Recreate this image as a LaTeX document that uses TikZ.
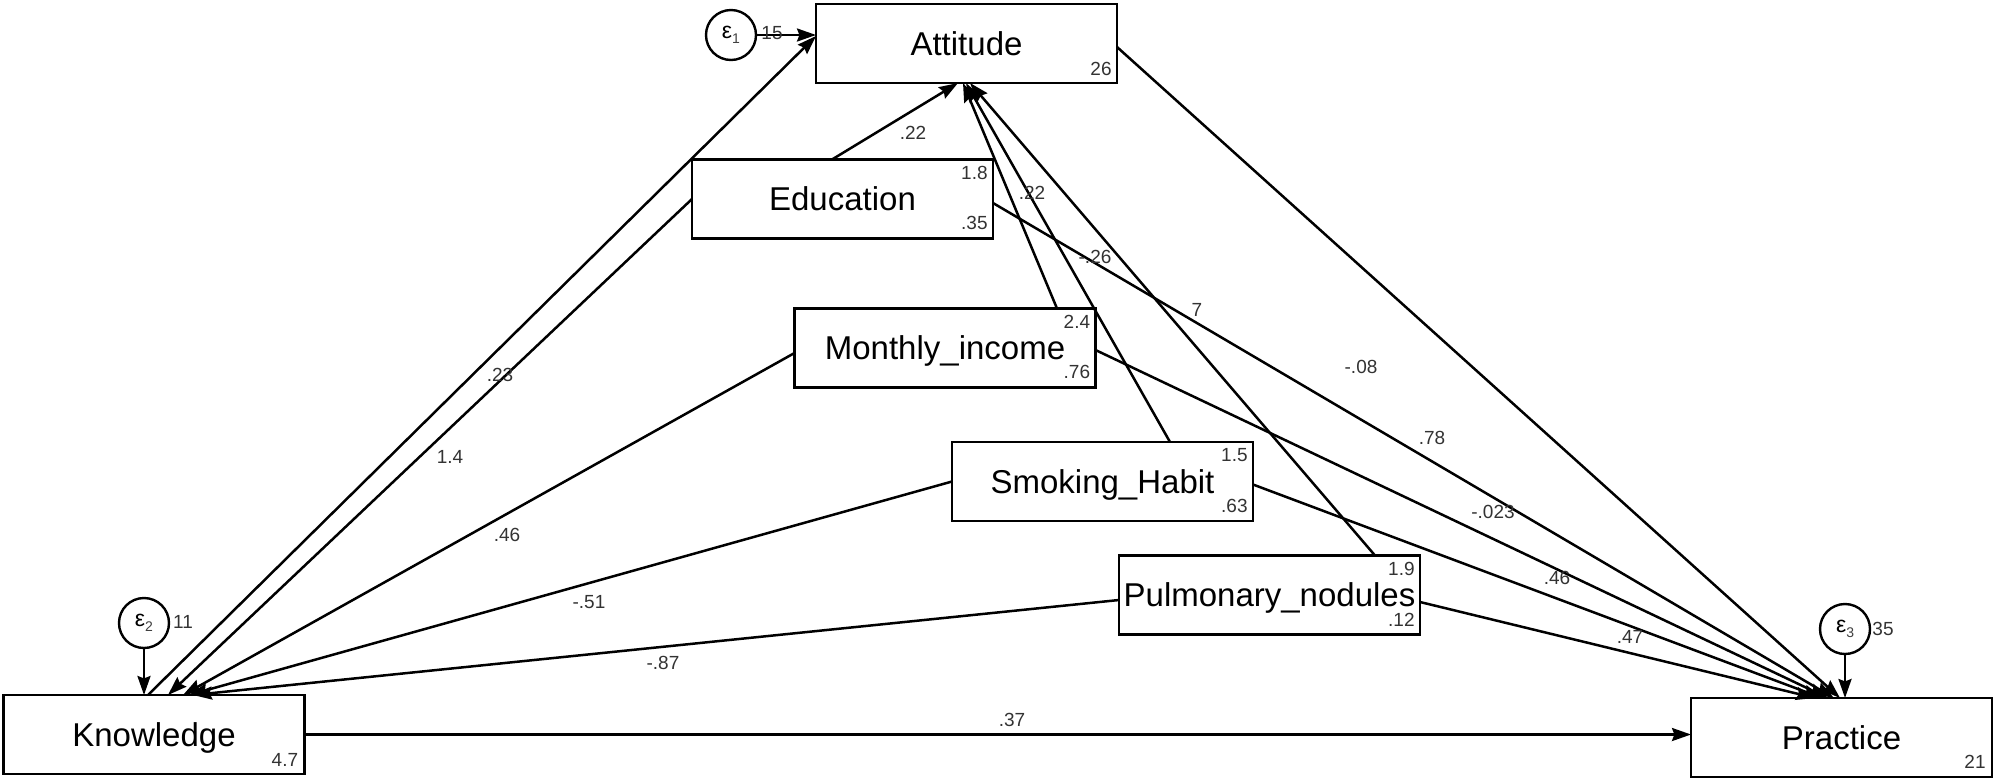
\documentclass[tikz,border=0pt]{standalone}
\usepackage{fontspec}
\setmainfont{Liberation Sans}
\usetikzlibrary{arrows.meta,calc}
\tikzset{
  var/.style={draw, line width=1.4pt, minimum width=150.5pt, minimum height=39.5pt,
    inner sep=0pt, outer sep=0pt, text height=11.8pt, text depth=0pt,
    font=\fontsize{16.5}{18}\selectfont},
  err/.style={draw, circle, line width=1.2pt, minimum size=25pt, inner sep=0pt,
    outer sep=0pt, font=\fontsize{11.5}{12}\selectfont},
  num/.style={inner sep=0pt, font=\fontsize{9.5}{10}\selectfont, text=black!80},
  conn/.style={line width=1.25pt, -{Stealth[length=9.5pt,width=6.5pt,inset=1.2pt]}},
}
\newcommand{\eps}[1]{ε\raisebox{-2.5pt}{\fontsize{7}{7}\selectfont\color{black!75}#1}}
\begin{document}
\begin{tikzpicture}[x=0.5pt,y=-0.5pt]
\useasboundingbox (0,0) rectangle (2008,783);
\fill[white] (0,0) rectangle (2008,783);

% boxes
\node[var] (att) at (966.5,43.5) {Attitude};
\node[var] (edu) at (842.5,199) {Education};
\node[var] (mon) at (945,348) {Monthly\_income};
\node[var] (smk) at (1102.5,481.5) {Smoking\_Habit};
\node[var] (pul) at (1269.5,595) {Pulmonary\_nodules};
\node[var] (kno) at (154,734.5) {Knowledge};
\node[var] (pra) at (1841.5,737.5) {Practice};

% error terms
\node[err] (e1) at (731,35) {\eps{1}};
\node[err] (e2) at (144,623) {\eps{2}};
\node[err] (e3) at (1845,629) {\eps{3}};

% box numbers
\node[num, anchor=south east] (attv) at ($(att.south east)+(-5,-7)$) {26};
\node[num, anchor=north east] (edum) at ($(edu.north east)+(-5,6)$) {1.8};
\node[num, anchor=south east] (eduv) at ($(edu.south east)+(-5,-8)$) {.35};
\node[num, anchor=north east] (monm) at ($(mon.north east)+(-5,6)$) {2.4};
\node[num, anchor=south east] (monv) at ($(mon.south east)+(-5,-8)$) {.76};
\node[num, anchor=north east] (smkm) at ($(smk.north east)+(-5,6)$) {1.5};
\node[num, anchor=south east] (smkv) at ($(smk.south east)+(-5,-8)$) {.63};
\node[num, anchor=north east] (pulm) at ($(pul.north east)+(-5,6)$) {1.9};
\node[num, anchor=south east] (pulv) at ($(pul.south east)+(-5,-8)$) {.12};
\node[num, anchor=south east] (knov) at ($(kno.south east)+(-6,-7)$) {4.7};
\node[num, anchor=south east] (prav) at ($(pra.south east)+(-6,-8)$) {21};

% attachment points
\coordinate (attL) at ($(att.west)+(0,-7.5)$);
\coordinate (aB1) at ($(att.south)+(-8.5,0)$);
\coordinate (aB2) at ($(att.south)+(-3.5,0)$);
\coordinate (aB3) at ($(att.south)+(-0.5,0)$);
\coordinate (aB4) at ($(att.south)+(3.5,0)$);
\coordinate (kT0) at ($(kno.north)+(-6,0)$);
\coordinate (kT1) at ($(kno.north)+(14,0)$);
\coordinate (kT2) at ($(kno.north)+(29,0)$);
\coordinate (kT3) at ($(kno.north)+(35,0)$);
\coordinate (kT4) at ($(kno.north)+(39,0)$);
\coordinate (pT0) at ($(pra.north)+(-1.5,0)$);
\coordinate (pT1) at ($(pra.north)+(-7.5,0)$);
\coordinate (pT2) at ($(pra.north)+(-13.5,0)$);
\coordinate (pT3) at ($(pra.north)+(-19.5,0)$);
\coordinate (pT4) at ($(pra.north)+(-26.5,0)$);
\coordinate (eduT) at ($(edu.north)+(-10.5,0)$);
\coordinate (monT) at ($(mon.north)+(112,0)$);
\coordinate (smkT) at ($(smk.north)+(67.5,0)$);
\coordinate (pulT) at ($(pul.north)+(105.5,0)$);
\coordinate (monL) at ($(mon.west)+(0,5)$);
\coordinate (pulL) at ($(pul.west)+(0,5)$);
\coordinate (eduR) at ($(edu.east)+(0,4)$);
\coordinate (monR) at ($(mon.east)+(0,2)$);
\coordinate (smkR) at ($(smk.east)+(0,3)$);
\coordinate (pulR) at ($(pul.east)+(0,7)$);
\coordinate (attR) at ($(att.east)+(0,3.5)$);

% paths
\draw[conn] (e1.east) -- (e1.east -| att.west);
\draw[conn] (e2.south) -- (e2.south |- kno.north);
\draw[conn] (e3.south) -- (e3.south |- pra.north);
\draw[conn] (kT0) -- (attL);
\draw[conn] (edu.west) -- (kT1);
\draw[conn] (monL) -- (kT2);
\draw[conn] (smk.west) -- (kT3);
\draw[conn] (pulL) -- (kT4);
\draw[conn] (eduT) -- (aB1);
\draw[conn] (monT) -- (aB2);
\draw[conn] (smkT) -- (aB3);
\draw[conn] (pulT) -- (aB4);
\draw[conn] (attR) -- (pT0);
\draw[conn] (eduR) -- (pT1);
\draw[conn] (monR) -- (pT2);
\draw[conn] (smkR) -- (pT3);
\draw[conn] (pulR) -- (pT4);
\draw[conn] (kno.east) -- (kno.east -| pra.west);

% path labels
\node[num] (l15) at (772,33) {15};
\node[num] (l11) at (183,622) {11};
\node[num] (l35) at (1883,629) {35};
\node[num] (l1) at (500,375) {.23};
\node[num] (l2) at (450,457) {1.4};
\node[num] (l3) at (507,535) {.46};
\node[num] (l4) at (589,602) {-.51};
\node[num] (l5) at (663,663) {-.87};
\node[num] (l6) at (1012,720) {.37};
\node[num] (l7) at (913,133) {.22};
\node[num] (l8) at (1032,193) {.22};
\node[num] (l9) at (1095,257) {-.26};
\node[num] (l10) at (1197,310) {7};
\node[num] (l12) at (1361,367) {-.08};
\node[num] (l13) at (1432,438) {.78};
\node[num] (l14) at (1493,512) {-.023};
\node[num] (l16) at (1557,578) {.46};
\node[num] (l17) at (1630,637) {.47};
\end{tikzpicture}
\end{document}
